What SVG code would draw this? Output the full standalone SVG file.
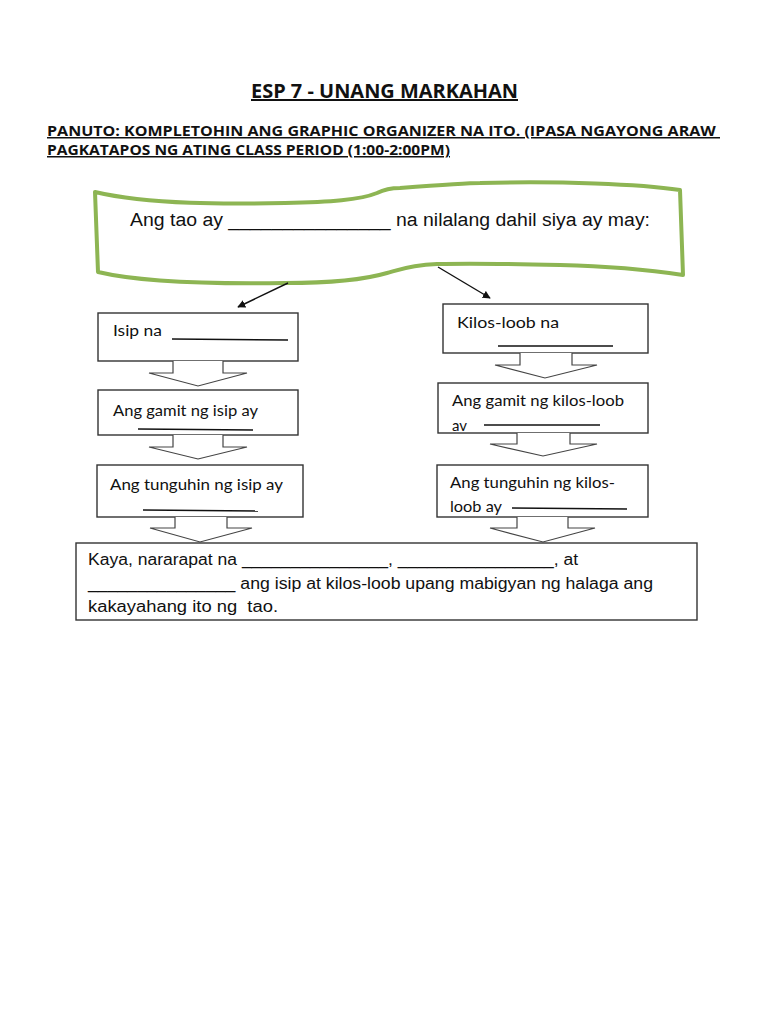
<svg xmlns="http://www.w3.org/2000/svg" width="768" height="1024" viewBox="0 0 768 1024">
<defs>
<style>
.cal{font-family:Lato,"Open Sans","Liberation Sans",sans-serif;fill:#111;}
.ari{font-family:"Liberation Sans",Arial,sans-serif;fill:#111;}
.hd{font-family:"Open Sans","Liberation Sans",sans-serif;font-weight:bold;fill:#111;text-decoration:underline;}
.box{fill:#fff;stroke:#333;stroke-width:1.4;}
.blank{stroke:#111;stroke-width:1.5;}
.blk{fill:#fff;stroke:#444;stroke-width:1.2;stroke-linejoin:miter;}
.arr{stroke:#111;stroke-width:1.4;fill:none;marker-end:url(#ah);}
</style>
<marker id="ah" viewBox="0 0 10 10" refX="9" refY="5" markerWidth="8" markerHeight="8" markerUnits="userSpaceOnUse" orient="auto">
<path d="M0,0 L10,5 L0,10 Z" fill="#111"/>
</marker>
</defs>
<rect width="768" height="1024" fill="#fff"/>

<g id="title">
<text class="hd" x="251" y="98" font-size="20" textLength="267" lengthAdjust="spacingAndGlyphs">ESP 7 - UNANG MARKAHAN</text>
</g>
<g id="instructions">
<text class="hd" x="47" y="136" font-size="15" textLength="673" lengthAdjust="spacingAndGlyphs" xml:space="preserve">PANUTO: KOMPLETOHIN ANG GRAPHIC ORGANIZER NA ITO. (IPASA NGAYONG ARAW </text>
<text class="hd" x="47" y="155" font-size="15" textLength="403" lengthAdjust="spacingAndGlyphs">PAGKATAPOS NG ATING CLASS PERIOD (1:00-2:00PM)</text>
</g>

<g id="banner">
<path d="M95,192 C150,205 230,204 285,203 C330,202 360,200 377,193 C385,189 392,188 400,188 C440,185 470,183 480,183 C560,181 640,184 680,190 L683,275 C650,270 600,266 560,265 C520,264 480,263 437,264 C410,265 398,270 387,273 C360,281 320,283 285,283 C220,284 140,282 98,272 Z" fill="#fff" stroke="#8db553" stroke-width="4" stroke-linejoin="round"/>
<text class="ari" x="130" y="226" font-size="18" textLength="520" lengthAdjust="spacingAndGlyphs">Ang tao ay _______________ na nilalang dahil siya ay may:</text>
</g>

<g id="box-isip-na">
<rect class="box" x="98" y="313" width="200" height="48"/>
<text class="cal" x="113" y="336" font-size="15" textLength="49" lengthAdjust="spacingAndGlyphs">Isip na</text>
<line class="blank" x1="172" y1="339" x2="288" y2="340"/>
</g>
<g id="box-gamit-isip">
<rect class="box" x="98" y="390" width="200" height="45"/>
<text class="cal" x="113" y="416" font-size="15" textLength="145" lengthAdjust="spacingAndGlyphs">Ang gamit ng isip ay</text>
<line class="blank" x1="138" y1="429" x2="253" y2="430"/>
</g>
<g id="box-tunguhin-isip">
<rect class="box" x="97" y="465" width="206" height="52"/>
<text class="cal" x="110" y="490" font-size="15" textLength="173" lengthAdjust="spacingAndGlyphs">Ang tunguhin ng isip ay</text>
<line class="blank" x1="143" y1="510" x2="258" y2="511"/>
</g>

<g id="box-kilos-loob-na">
<rect class="box" x="443" y="304" width="205" height="49"/>
<text class="cal" x="457" y="328" font-size="15" textLength="102" lengthAdjust="spacingAndGlyphs">Kilos-loob na</text>
<line class="blank" x1="498" y1="346" x2="613" y2="346"/>
</g>
<g id="box-gamit-kilos">
<rect class="box" x="438" y="383" width="210" height="50"/>
<text class="cal" x="452" y="406" font-size="15" textLength="172" lengthAdjust="spacingAndGlyphs">Ang gamit ng kilos-loob</text>
<text class="cal" x="452" y="431" font-size="15">av</text>
<line class="blank" x1="484" y1="425" x2="600" y2="425"/>
</g>
<g id="box-tunguhin-kilos">
<rect class="box" x="437" y="465" width="211" height="52"/>
<text class="cal" x="450" y="488" font-size="15" textLength="165" lengthAdjust="spacingAndGlyphs">Ang tunguhin ng kilos-</text>
<text class="cal" x="450" y="512" font-size="15" textLength="52" lengthAdjust="spacingAndGlyphs">loob ay</text>
<line class="blank" x1="512" y1="508" x2="627" y2="509"/>
</g>

<g id="connectors">
<line class="arr" x1="288" y1="283" x2="238" y2="307"/>
<line class="arr" x1="438" y1="267" x2="490" y2="298"/>
<polyline class="blk" points="173,361 173,373 149,373 198,386 247,373 223,373 223,361"/>
<polyline class="blk" points="173,435 173,447 149,447 198,459 247,447 223,447 223,435"/>
<polyline class="blk" points="175,517 175,528 150,528 200,542 252,528 227,528 227,517"/>
<polyline class="blk" points="520,353 520,365 495,365 545,378 597,365 572,365 572,353"/>
<polyline class="blk" points="517,433 517,444 490,444 543,456 597,444 570,444 570,433"/>
<polyline class="blk" points="517,517 517,528 490,528 543,542 595,528 568,528 568,517"/>
</g>

<g id="box-conclusion">
<rect class="box" x="76" y="543" width="621" height="77"/>
<text class="ari" x="88" y="565" font-size="16" textLength="490" lengthAdjust="spacingAndGlyphs">Kaya, nararapat na _______________, ________________, at</text>
<text class="ari" x="88" y="589" font-size="16" textLength="565" lengthAdjust="spacingAndGlyphs">_______________ ang isip at kilos-loob upang mabigyan ng halaga ang</text>
<text class="ari" x="88" y="612" font-size="16" textLength="190" lengthAdjust="spacingAndGlyphs" xml:space="preserve">kakayahang ito ng  tao.</text>
</g>
</svg>
